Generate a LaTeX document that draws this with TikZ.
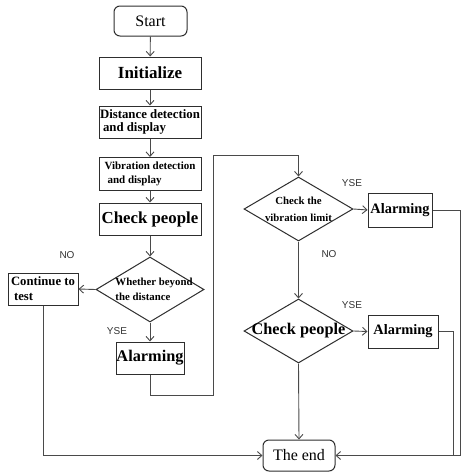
\documentclass[tikz,border=0pt]{standalone}
\usepackage{fontspec}
\setmainfont{Liberation Serif}
\newfontfamily\lblfont{Liberation Sans}
\usetikzlibrary{shapes.geometric,arrows.meta}
\definecolor{linec}{HTML}{4A4A4A}
\definecolor{boxc}{HTML}{2E2E2E}
\tikzset{
  x=1pt, y=-1pt,
  conn/.style={draw=linec, line width=0.9pt, -{Straight Barb[length=4.5pt,width=8pt]}},
  plain/.style={draw=linec, line width=0.9pt},
  boxn/.style={draw=boxc, line width=1pt, rectangle, inner sep=0pt, align=center, font=\bfseries},
  termn/.style={draw=boxc, line width=1pt, rectangle, rounded corners=6pt, inner sep=0pt, font=\fontsize{16}{18}\selectfont},
  decn/.style={draw=boxc, line width=1pt, diamond, inner sep=0pt},
  lbl/.style={font=\lblfont\fontsize{10}{12}\selectfont, text=black!80},
}
\begin{document}
\begin{tikzpicture}
\useasboundingbox (0,0) rectangle (474,474);
\fill[white] (0,0) rectangle (474,474);
% left column
\node[termn, minimum width=73pt, minimum height=30pt] (start) at (150.5,21) {Start};
\node[boxn, minimum width=102pt, minimum height=32pt, font=\bfseries\fontsize{17}{19}\selectfont] (init) at (150,73) {Initialize};
\node[boxn, minimum width=102pt, minimum height=32pt, align=left, font=\bfseries\fontsize{12.8}{14.5}\selectfont] (dist) at (150,122) {Distance detection\\[-1pt]\hspace*{3pt}and display};
\node[boxn, minimum width=102pt, minimum height=33pt, align=left, font=\bfseries\fontsize{11}{14}\selectfont] (vib) at (150,174) {Vibration detection\\\hspace*{3pt}and display};
\node[boxn, minimum width=102pt, minimum height=32pt, font=\bfseries\fontsize{16.8}{19}\selectfont] (chk1) at (150,219) {Check people};
\node[decn, minimum width=108pt, minimum height=65pt,
  label={[align=left, font=\bfseries\fontsize{10.8}{15}\selectfont, xshift=4pt]center:{Whether beyond\\the distance}}] (dia1) at (150,289.5) {};
\node[boxn, minimum width=70pt, minimum height=32pt, align=left, font=\bfseries\fontsize{12.7}{15}\selectfont] (cont) at (43,289) {Continue to\\\hspace*{3pt}test};
\node[boxn, minimum width=68pt, minimum height=32pt, font=\bfseries\fontsize{16.3}{18}\selectfont] (alarmL) at (150,358) {Alarming};
% right column
\node[decn, minimum width=109pt, minimum height=64pt,
  label={[align=center, font=\bfseries\fontsize{10.8}{17}\selectfont]center:{Check the\\vibration limit}}] (dia2) at (298.5,209) {};
\node[boxn, minimum width=64pt, minimum height=34pt, font=\bfseries\fontsize{14.4}{16}\selectfont] (alarm1) at (400,210) {Alarming};
\node[decn, minimum width=109pt, minimum height=64pt,
  label={[font=\bfseries\fontsize{16.3}{18}\selectfont]center:{Check people}}] (dia3) at (298.5,331) {};
\node[boxn, minimum width=70pt, minimum height=33pt, font=\bfseries\fontsize{14.4}{16}\selectfont] (alarm2) at (403,331.5) {Alarming};
\node[termn, minimum width=72pt, minimum height=31pt] (end) at (299,455.5) {The end};
% labels
\node[lbl] (no1) at (67,255) {NO};
\node[lbl] (yse1) at (117,331) {YSE};
\node[lbl] (yse2) at (352,183) {YSE};
\node[lbl] (no2) at (329,254) {NO};
\node[lbl] (yse3) at (352,305) {YSE};
% helper coordinates
\coordinate (l1) at (213,395);
\coordinate (l2) at (213,155);
\coordinate (r1) at (460,455.5);
\coordinate (r2) at (453,455.5);
% connectors
\draw[conn] (start) -- (init);
\draw[conn] (init) -- (dist);
\draw[conn] (dist) -- (vib);
\draw[conn] (vib) -- (chk1);
\draw[conn] (chk1) -- (dia1.north);
\draw[conn] (dia1.west) -- (cont.east);
\draw[conn] (dia1.south) -- (alarmL.north);
\draw[conn] (alarmL.south) |- (l1) -- (l2) -| (dia2.north);
\draw[conn] (dia2.east) -- (alarm1.west);
\draw[conn] (dia2.south) -- (dia3.north);
\draw[conn] (dia3.east) -- (alarm2.west);
\draw[conn] (dia3.south) -- (end.north);
\draw[conn] (cont.south) |- (end.west);
\draw[conn] (alarm1.east) -| (r1) -- (end.east);
\draw[plain] (alarm2.east) -| (r2);
\end{tikzpicture}
\end{document}
